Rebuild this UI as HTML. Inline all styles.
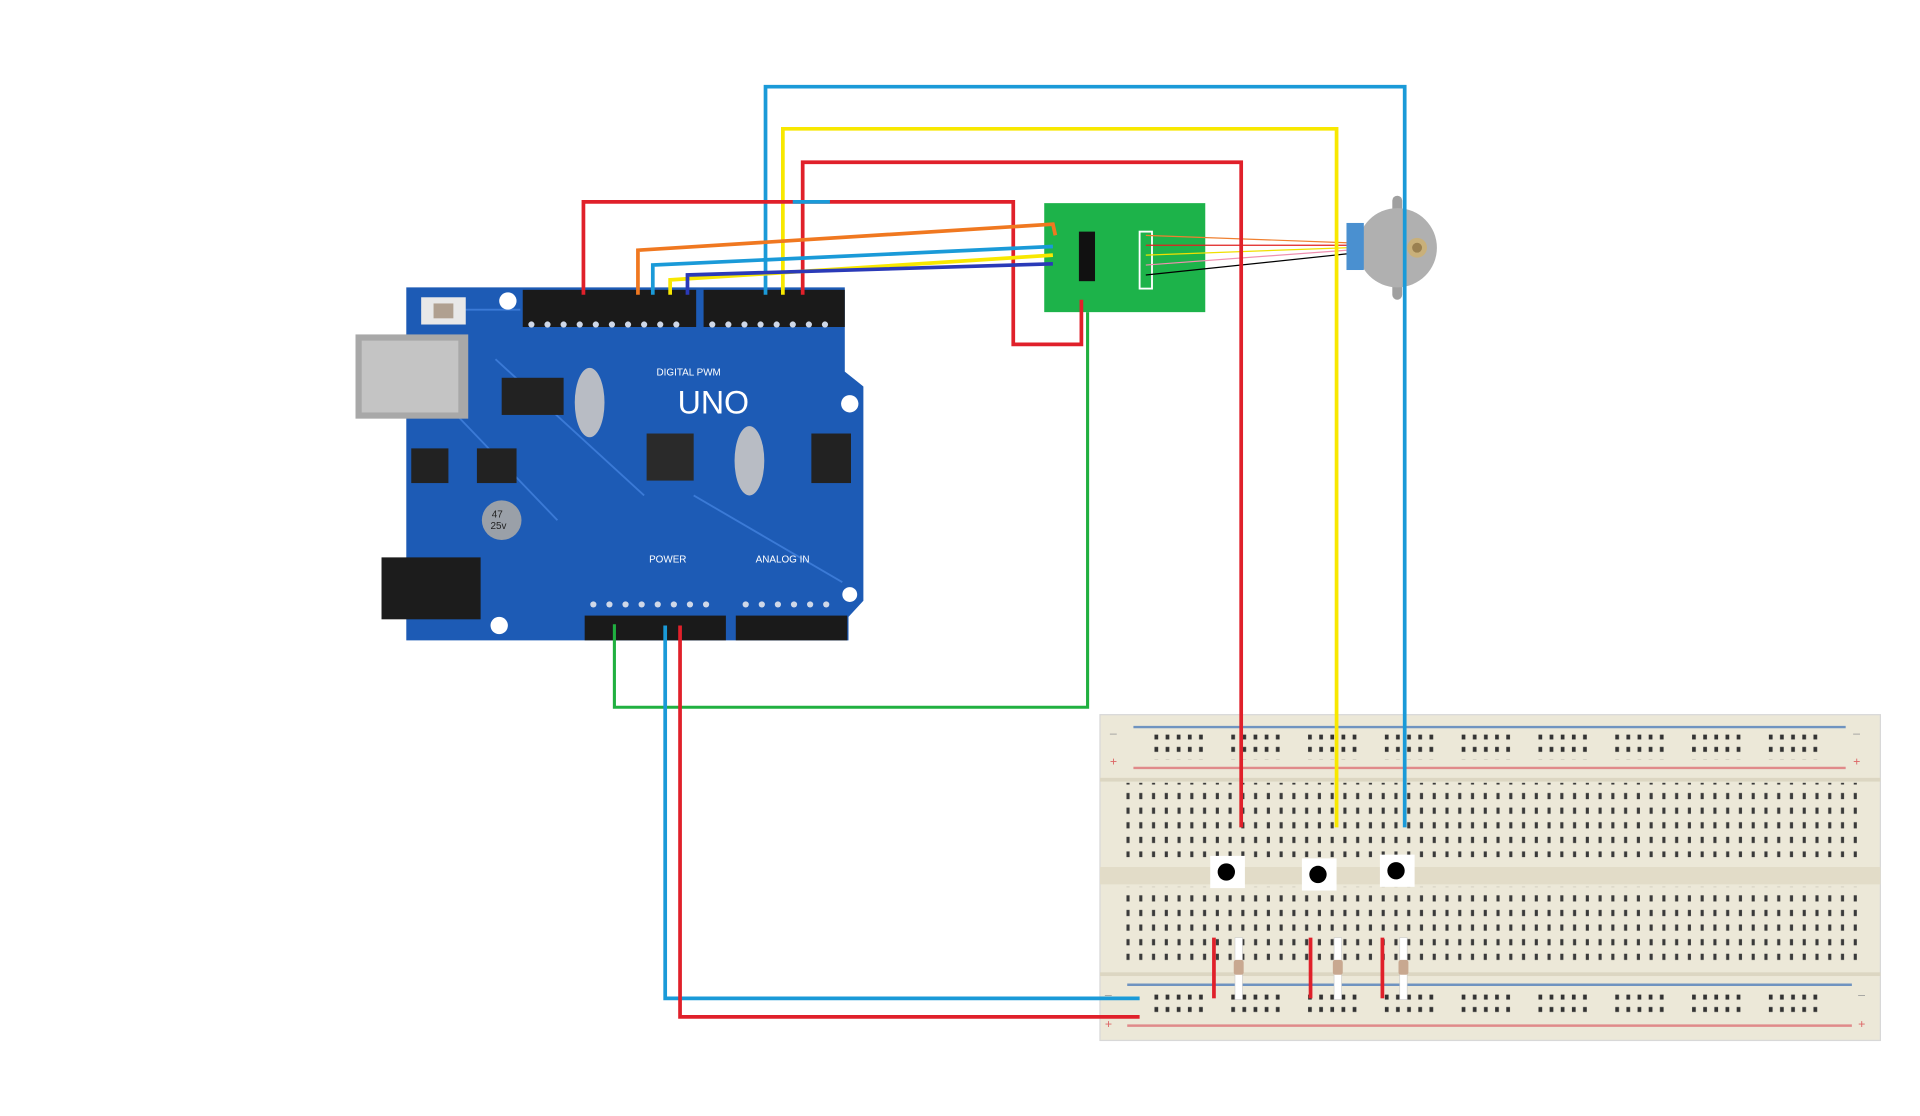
<!DOCTYPE html>
<html><head><meta charset="utf-8"><style>
html,body{margin:0;padding:0;background:#fff;width:1920px;height:1116px;overflow:hidden}
svg{display:block}
text{font-family:"Liberation Sans",sans-serif}
</style></head><body>
<svg width="1920" height="1116" viewBox="0 0 1550 901" preserveAspectRatio="none" xmlns="http://www.w3.org/2000/svg">
<defs>
<pattern id="h5" x="0" y="0" width="62" height="10" patternUnits="userSpaceOnUse">
<rect x="2" y="3" width="3" height="4" fill="#333"/><rect x="11" y="3" width="3" height="4" fill="#333"/><rect x="20" y="3" width="3" height="4" fill="#333"/><rect x="29" y="3" width="3" height="4" fill="#333"/><rect x="38" y="3" width="3" height="4" fill="#333"/>
</pattern>
<pattern id="hm" x="0" y="0" width="10.3" height="11.8" patternUnits="userSpaceOnUse">
<rect x="3" y="3" width="2.5" height="5" fill="#3a3a3a"/>
</pattern>
</defs>

<!-- Breadboard -->
<rect x="888" y="577" width="630" height="263" fill="#ece8d8"/>
<rect x="888" y="577" width="630" height="263" fill="none" stroke="#d8d8d8"/>
<rect x="888" y="628" width="630" height="3" fill="#dcd6c2"/>
<rect x="888" y="700" width="630" height="14" fill="#e2dcc8"/>
<rect x="888" y="785" width="630" height="3" fill="#dcd6c2"/>
<line x1="915" y1="587" x2="1490" y2="587" stroke="#6f93c0" stroke-width="2"/>
<line x1="915" y1="620" x2="1490" y2="620" stroke="#e08a8a" stroke-width="2"/>
<line x1="910" y1="795" x2="1495" y2="795" stroke="#6f93c0" stroke-width="2"/>
<line x1="910" y1="828" x2="1495" y2="828" stroke="#e08a8a" stroke-width="2"/>
<rect x="918" y="593" width="562" height="20" fill="url(#h5)"/>
<rect x="915" y="800" width="570" height="20" fill="url(#h5)"/>
<rect x="903" y="632" width="600" height="60" fill="url(#hm)"/>
<rect x="903" y="716" width="600" height="60" fill="url(#hm)"/>
<text x="896" y="595" font-size="10" fill="#999">–</text><text x="896" y="618" font-size="10" fill="#d66">+</text>
<text x="1496" y="595" font-size="10" fill="#999">–</text><text x="1496" y="618" font-size="10" fill="#d66">+</text>
<text x="892" y="806" font-size="10" fill="#999">–</text><text x="892" y="830" font-size="10" fill="#d66">+</text>
<text x="1500" y="806" font-size="10" fill="#999">–</text><text x="1500" y="830" font-size="10" fill="#d66">+</text>

<!-- Arduino -->
<path d="M328 232 H682 V300 L697 312 V485 L685 498 V517 H328 Z" fill="#1d5bb5"/>
<path d="M340 250 H420 M335 300 L450 420 M400 290 L520 400 M560 400 L680 470" stroke="#3b7ad6" stroke-width="1.5" fill="none"/>
<rect x="422" y="234" width="140" height="30" fill="#1a1a1a"/>
<rect x="568" y="234" width="114" height="30" fill="#1a1a1a"/>
<g fill="#cfd8e8"><circle cx="429" cy="262" r="2.5"/><circle cx="442" cy="262" r="2.5"/><circle cx="455" cy="262" r="2.5"/><circle cx="468" cy="262" r="2.5"/><circle cx="481" cy="262" r="2.5"/><circle cx="494" cy="262" r="2.5"/><circle cx="507" cy="262" r="2.5"/><circle cx="520" cy="262" r="2.5"/><circle cx="533" cy="262" r="2.5"/><circle cx="546" cy="262" r="2.5"/><circle cx="575" cy="262" r="2.5"/><circle cx="588" cy="262" r="2.5"/><circle cx="601" cy="262" r="2.5"/><circle cx="614" cy="262" r="2.5"/><circle cx="627" cy="262" r="2.5"/><circle cx="640" cy="262" r="2.5"/><circle cx="653" cy="262" r="2.5"/><circle cx="666" cy="262" r="2.5"/></g>
<rect x="472" y="497" width="114" height="20" fill="#1a1a1a"/>
<rect x="594" y="497" width="90" height="20" fill="#1a1a1a"/>
<g fill="#cfd8e8"><circle cx="479" cy="488" r="2.5"/><circle cx="492" cy="488" r="2.5"/><circle cx="505" cy="488" r="2.5"/><circle cx="518" cy="488" r="2.5"/><circle cx="531" cy="488" r="2.5"/><circle cx="544" cy="488" r="2.5"/><circle cx="557" cy="488" r="2.5"/><circle cx="570" cy="488" r="2.5"/><circle cx="602" cy="488" r="2.5"/><circle cx="615" cy="488" r="2.5"/><circle cx="628" cy="488" r="2.5"/><circle cx="641" cy="488" r="2.5"/><circle cx="654" cy="488" r="2.5"/><circle cx="667" cy="488" r="2.5"/></g>
<rect x="287" y="270" width="91" height="68" fill="#a8a8a8"/><rect x="292" y="275" width="78" height="58" fill="#c4c4c4"/>
<rect x="308" y="450" width="80" height="50" fill="#1c1c1c"/>
<rect x="340" y="240" width="36" height="22" fill="#e8e8e8"/><rect x="350" y="245" width="16" height="12" fill="#b0a090"/>
<circle cx="410" cy="243" r="7" fill="#fff"/><circle cx="686" cy="326" r="7" fill="#fff"/><circle cx="686" cy="480" r="6" fill="#fff"/><circle cx="403" cy="505" r="7" fill="#fff"/>
<rect x="405" y="305" width="50" height="30" fill="#222"/>
<ellipse cx="476" cy="325" rx="12" ry="28" fill="#b8bcc4"/>
<ellipse cx="605" cy="372" rx="12" ry="28" fill="#b8bcc4"/>
<rect x="522" y="350" width="38" height="38" fill="#2a2a2a"/>
<rect x="655" y="350" width="32" height="40" fill="#222"/>
<rect x="332" y="362" width="30" height="28" fill="#222"/><rect x="385" y="362" width="32" height="28" fill="#222"/>
<circle cx="405" cy="420" r="16" fill="#9aa0a8"/><text x="397" y="418" font-size="8" fill="#222">47</text><text x="396" y="427" font-size="8" fill="#222">25v</text>
<text x="547" y="334" font-size="26" fill="#fff">UNO</text>
<text x="530" y="303" font-size="8" fill="#fff">DIGITAL  PWM</text>
<text x="524" y="454" font-size="8" fill="#fff">POWER</text>
<text x="610" y="454" font-size="8" fill="#fff">ANALOG  IN</text>

<!-- Green driver -->
<rect x="843" y="164" width="130" height="88" fill="#1db34a"/>
<rect x="871" y="187" width="13" height="40" fill="#111"/>
<rect x="920" y="187" width="10" height="46" fill="none" stroke="#fff" stroke-width="1.5"/>

<!-- Motor -->
<rect x="1124" y="158" width="8" height="84" rx="4" fill="#a0a0a0"/>
<circle cx="1128" cy="200" r="32" fill="#b0b0b0"/>
<circle cx="1144" cy="200" r="8" fill="#c9b07a"/><circle cx="1144" cy="200" r="4" fill="#9a8050"/>
<rect x="1087" y="180" width="14" height="38" fill="#4a90d0"/>

<!-- Thin motor wires -->
<g stroke-width="1">
<line x1="925" y1="190" x2="1087" y2="196" stroke="#f08030"/>
<line x1="925" y1="198" x2="1087" y2="198" stroke="#e02020"/>
<line x1="925" y1="206" x2="1087" y2="200" stroke="#f0e000"/>
<line x1="925" y1="214" x2="1087" y2="202" stroke="#f090b0"/>
<line x1="925" y1="222" x2="1087" y2="205" stroke="#000"/>
</g>

<!-- Wires -->
<g fill="none" stroke-width="3">
<polyline points="618,238 618,70 1134,70 1134,668" stroke="#1a9ad8"/>
<polyline points="632,238 632,104 1079,104 1079,668" stroke="#f8e800"/>
<polyline points="648,238 648,131 1002,131 1002,668" stroke="#e0202a"/>
<polyline points="471,238 471,163 818,163 818,278 873,278 873,242" stroke="#e0202a"/>
<line x1="640" y1="163" x2="670" y2="163" stroke="#1a9ad8"/>
<polyline points="515,238 515,202 850,181 852,190" stroke="#f07820"/>
<polyline points="527,238 527,214 850,199" stroke="#1a9ad8"/>
<polyline points="541,238 541,226 850,206" stroke="#f8e800"/>
<polyline points="555,238 555,222 850,213" stroke="#2a3ab8"/>
<polyline points="878,252 878,571 496,571 496,504" stroke="#20b040" stroke-width="2.5"/>
<polyline points="537,505 537,806 920,806" stroke="#1a9ad8"/>
<polyline points="549,505 549,821 920,821" stroke="#e0202a"/>
<line x1="980" y1="757" x2="980" y2="806" stroke="#e0202a"/>
<line x1="1058" y1="757" x2="1058" y2="806" stroke="#e0202a"/>
<line x1="1116" y1="757" x2="1116" y2="806" stroke="#e0202a"/>
</g>

<!-- Resistors -->
<g>
<rect x="997" y="757" width="6" height="50" fill="#fff" stroke="#ccc" stroke-width="0.5"/><rect x="996" y="775" width="8" height="12" rx="2" fill="#c8a890"/>
<rect x="1077" y="757" width="6" height="50" fill="#fff" stroke="#ccc" stroke-width="0.5"/><rect x="1076" y="775" width="8" height="12" rx="2" fill="#c8a890"/>
<rect x="1130" y="757" width="6" height="50" fill="#fff" stroke="#ccc" stroke-width="0.5"/><rect x="1129" y="775" width="8" height="12" rx="2" fill="#c8a890"/>
</g>

<!-- Buttons -->
<g>
<rect x="977" y="691" width="28" height="26" fill="#fff"/><circle cx="990" cy="704" r="7" fill="#000"/>
<rect x="1051" y="693" width="28" height="26" fill="#fff"/><circle cx="1064" cy="706" r="7" fill="#000"/>
<rect x="1114" y="690" width="28" height="26" fill="#fff"/><circle cx="1127" cy="703" r="7" fill="#000"/>
</g>
</svg>
</body></html>
